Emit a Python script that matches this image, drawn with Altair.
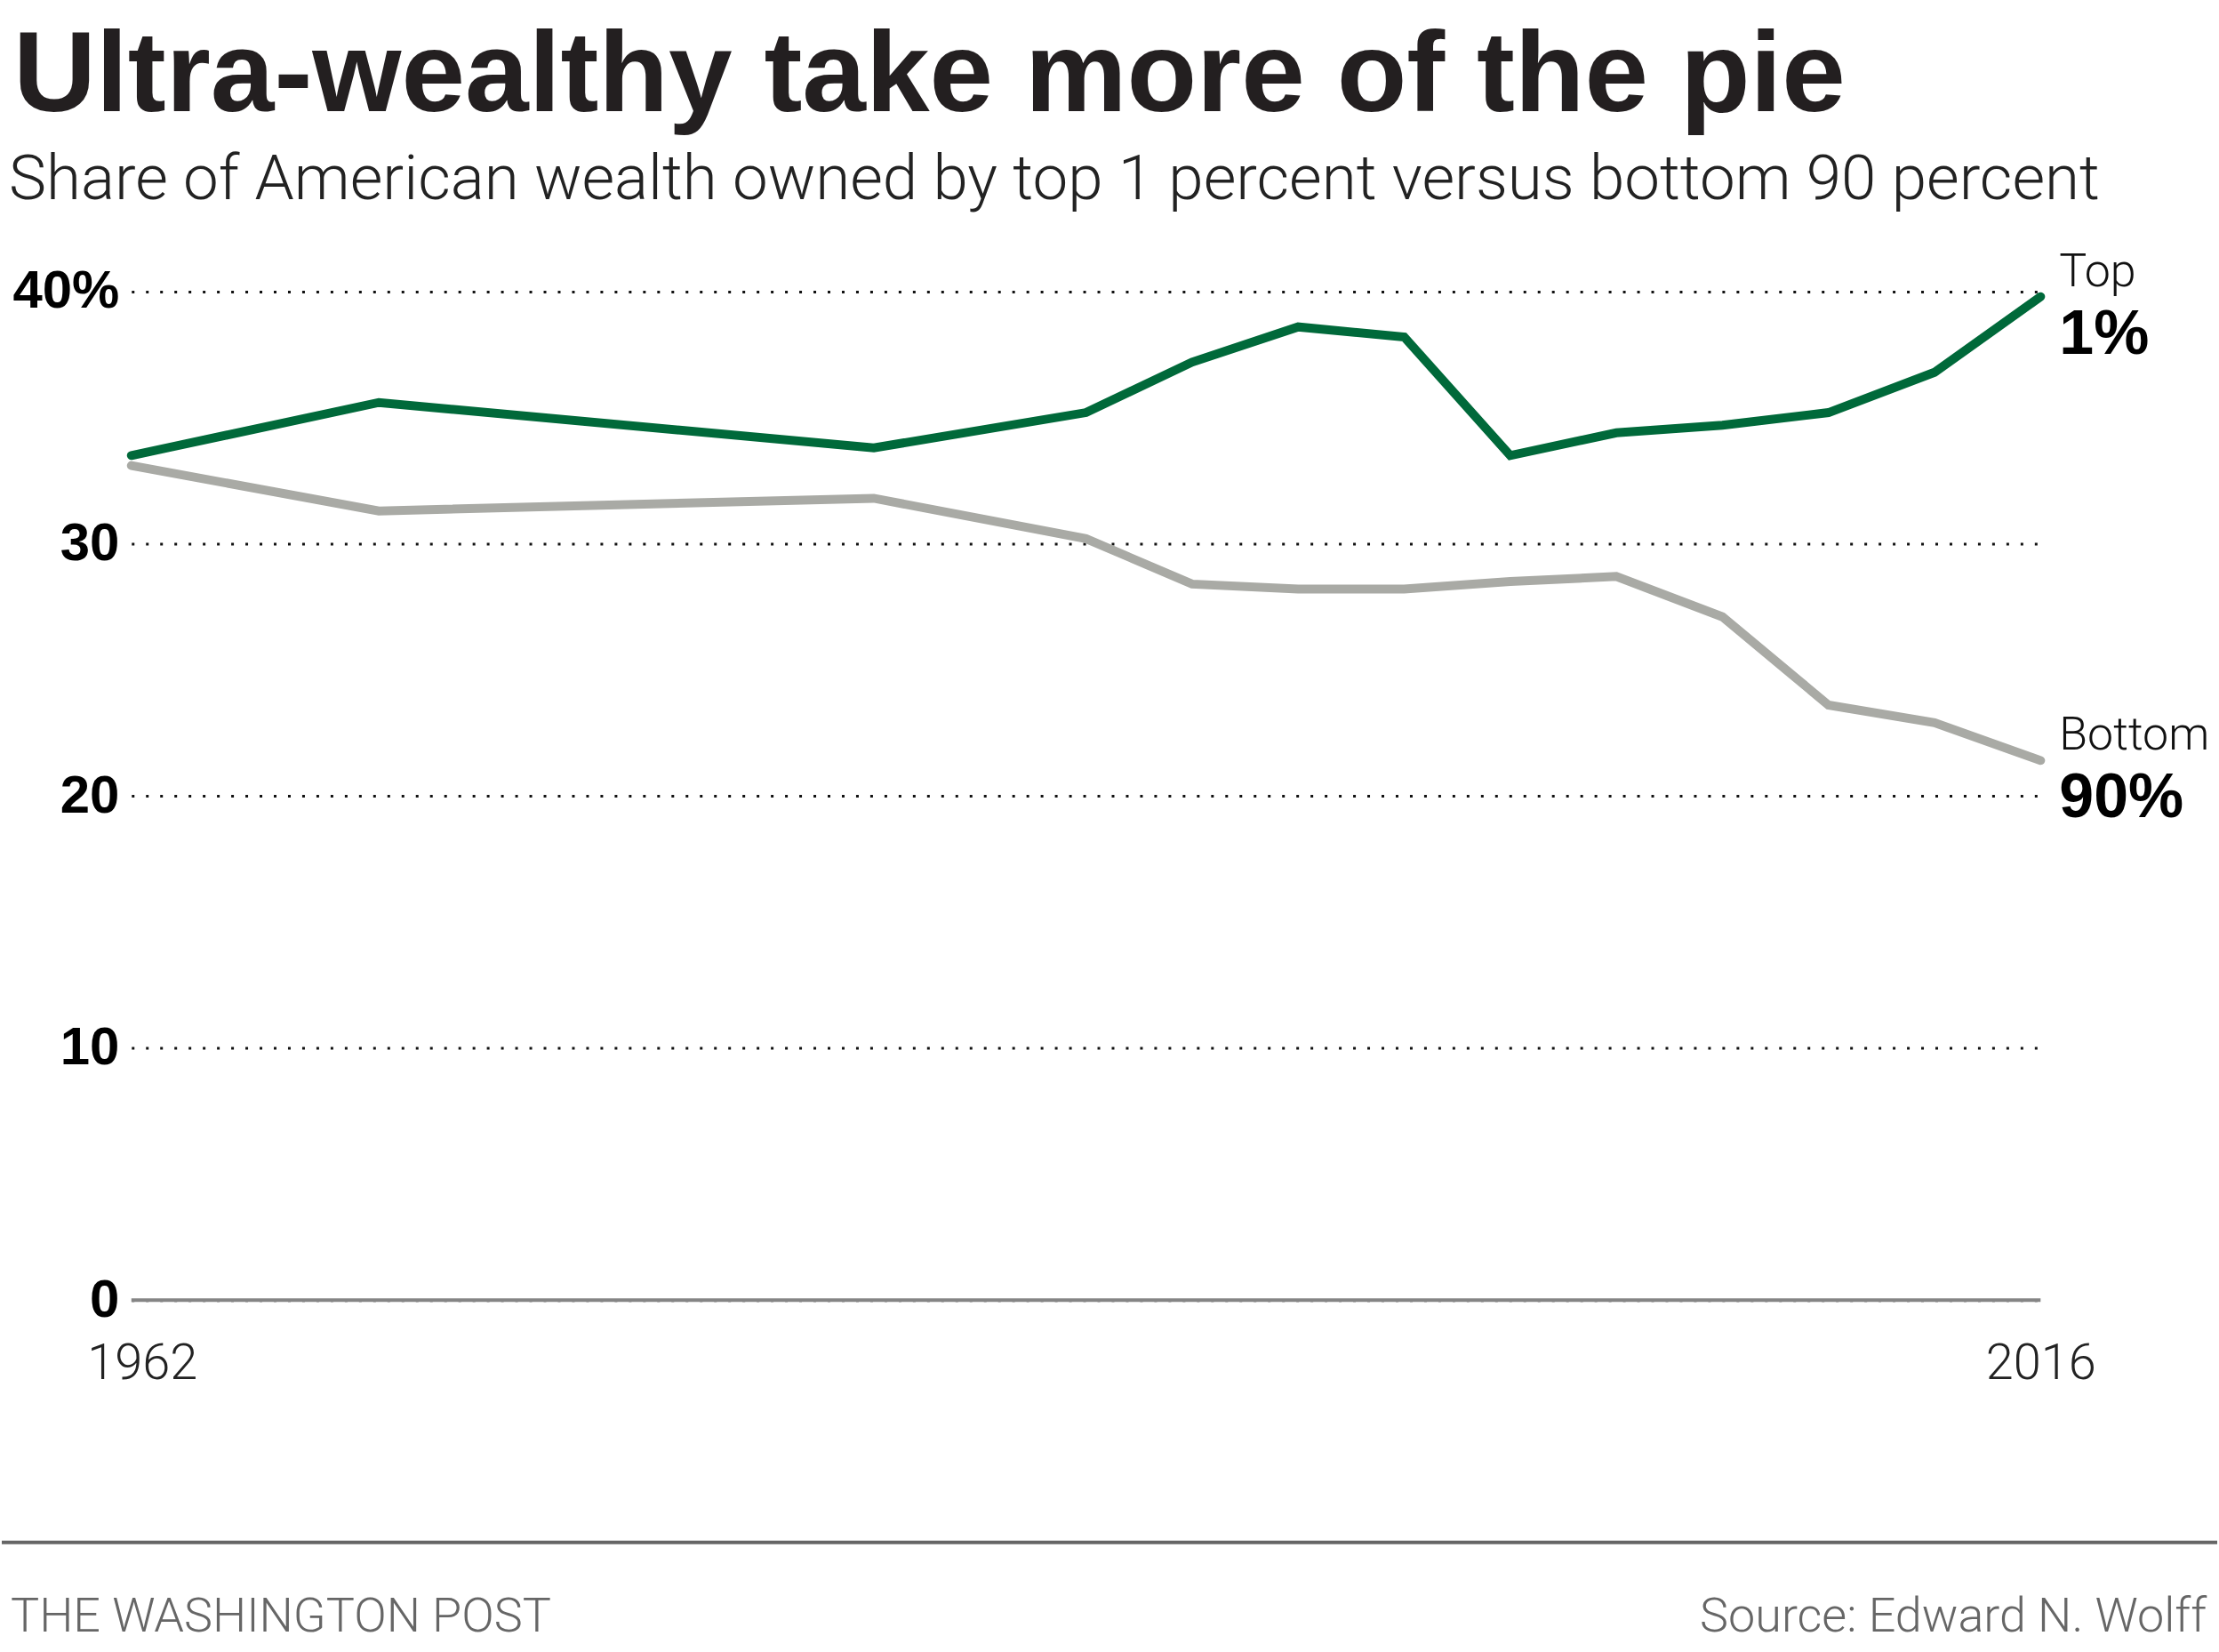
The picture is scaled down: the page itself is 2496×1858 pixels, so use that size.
import altair as alt
import pandas as pd

# ---- data ----
years = [1962, 1969, 1983, 1989, 1992, 1995, 1998, 2001, 2004, 2007, 2010, 2013, 2016]
top1 = [33.5, 35.6, 33.8, 35.2, 37.2, 38.6, 38.2, 33.5, 34.4, 34.7, 35.2, 36.8, 39.8]
bottom90 = [33.1, 31.3, 31.8, 30.2, 28.4, 28.2, 28.2, 28.5, 28.7, 27.1, 23.6, 22.9, 21.4]

series_names = ["Bottom 90%", "Top 1%"]
series_colors = ["#a9aaa5", "#00693a"]
label_small = ["Bottom", "Top"]
label_big = ["90%", "1%"]

y_ticks = [0, 10, 20, 30, 40]
x_ticks = [1962, 2016]

title_text = "Ultra-wealthy take more of the pie"
subtitle_text = "Share of American wealth owned by top 1 percent versus bottom 90 percent"
credit_text = "THE WASHINGTON POST"
source_text = "Source: Edward N. Wolff"

# ---- tables ----
df_bottom = pd.DataFrame({"year": years, "value": bottom90, "series": series_names[0]})
df_top = pd.DataFrame({"year": years, "value": top1, "series": series_names[1]})
df_ends = pd.DataFrame({
    "year": [years[-1], years[-1]],
    "value": [bottom90[-1], top1[-1]],
    "series": series_names,
    "small": label_small,
    "big": label_big,
})
one = pd.DataFrame({"a": [0]})

W, H = 2151, 1136
LEFT, TOP = 146, 327

xscale = alt.Scale(domain=[years[0], years[-1]], nice=False, zero=False)
yscale = alt.Scale(domain=[0, 40], nice=False, zero=True)
cscale = alt.Scale(domain=series_names, range=series_colors)

x_enc = alt.X(
    "year:Q", scale=xscale, title=None,
    axis=alt.Axis(values=x_ticks, format="d", grid=False, ticks=False, domain=False,
                  labelFont="Roboto", labelFontWeight=300, labelFontSize=56,
                  labelColor="#222222", labelPadding=44, labelFlush=False,
                  labelOffset=alt.condition("datum.value == 1962", alt.value(12), alt.value(0))),
)
y_enc = alt.Y(
    "value:Q", scale=yscale, title=None,
    axis=alt.Axis(values=y_ticks, grid=True, gridColor="#111111", gridDash=[3, 13],
                  gridWidth=3, ticks=False, domain=False,
                  labelExpr="datum.value == 40 ? '40%' : datum.label",
                  labelFont="Liberation Sans", labelFontWeight="bold", labelFontSize=60,
                  labelColor="#000000", labelPadding=14, labelBaseline="middle"),
)

# invisible frame that fixes the page extent
frame = alt.Chart(one).mark_rect(opacity=0).encode(
    x=alt.value(-LEFT), x2=alt.value(2496 - LEFT),
    y=alt.value(-TOP), y2=alt.value(1858 - TOP),
)

line_bottom = alt.Chart(df_bottom).mark_line(
    strokeWidth=10, strokeCap="round", strokeJoin="miter"
).encode(x=x_enc, y=y_enc, color=alt.Color("series:N", scale=cscale, legend=None))

line_top = alt.Chart(df_top).mark_line(
    strokeWidth=10, strokeCap="round", strokeJoin="miter"
).encode(x="year:Q", y="value:Q", color=alt.Color("series:N", scale=cscale, legend=None))

zero_rule = alt.Chart(pd.DataFrame({"value": [0]})).mark_rule(
    color="#858585", strokeWidth=4
).encode(y="value:Q")

end_small = alt.Chart(df_ends).mark_text(
    align="left", baseline="alphabetic", dx=21, dy=-12,
    font="Roboto", fontWeight=300, fontSize=52, color="#111111",
).encode(x="year:Q", y="value:Q", text="small:N")

end_big = alt.Chart(df_ends).mark_text(
    align="left", baseline="alphabetic", dx=21, dy=64,
    font="Liberation Sans", fontWeight="bold", fontSize=70, color="#000000",
).encode(x="year:Q", y="value:Q", text="big:N")

title = alt.Chart(one).mark_text(
    align="left", baseline="alphabetic", font="Liberation Sans", fontWeight="bold",
    fontSize=129, color="#231f20",
).encode(x=alt.value(13 - LEFT), y=alt.value(124 - TOP), text=alt.value(title_text))

subtitle = alt.Chart(one).mark_text(
    align="left", baseline="alphabetic", font="Roboto", fontWeight=300,
    fontSize=71, color="#222222",
).encode(x=alt.value(8 - LEFT), y=alt.value(223 - TOP), text=alt.value(subtitle_text))

sep = alt.Chart(one).mark_rule(color="#666666", strokeWidth=4).encode(
    x=alt.value(-LEFT), x2=alt.value(2496 - LEFT), y=alt.value(1736 - TOP)
)

credit = alt.Chart(one).mark_text(
    align="left", baseline="alphabetic", font="Roboto", fontWeight=300,
    fontSize=54, color="#666666",
).encode(x=alt.value(10 - LEFT), y=alt.value(1836 - TOP), text=alt.value(credit_text))

source = alt.Chart(one).mark_text(
    align="right", baseline="alphabetic", font="Roboto", fontWeight=300,
    fontSize=54, color="#666666",
).encode(x=alt.value(2484 - LEFT), y=alt.value(1836 - TOP), text=alt.value(source_text))

chart = alt.layer(
    frame, line_bottom, line_top, zero_rule, end_small, end_big,
    title, subtitle, sep, credit, source,
).properties(width=W, height=H, padding=0).configure_view(stroke=None)

chart.save("out.html", embed_options={"renderer": "svg", "actions": False})
